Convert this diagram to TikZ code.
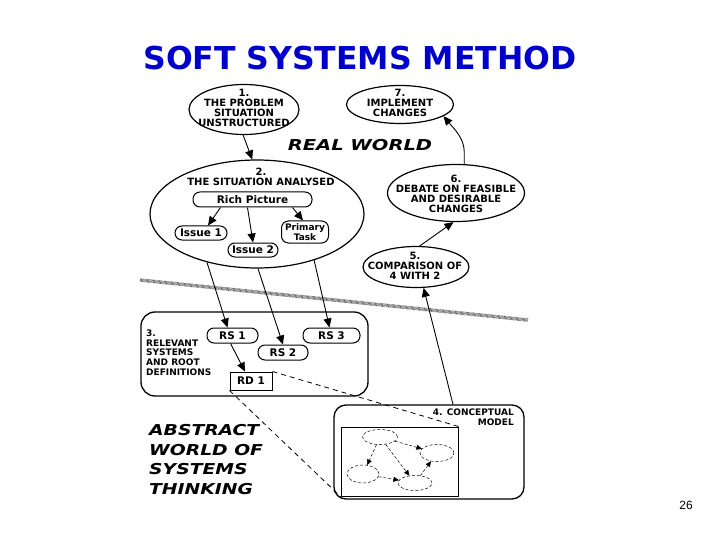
\documentclass[tikz,border=0pt]{standalone}
\usepackage{fontspec}
\usepackage{graphicx}
\setmainfont{DejaVu Sans}
\newfontfamily\arialfont{Liberation Sans}
\usetikzlibrary{shapes.geometric,arrows.meta,calc}
\definecolor{titleblue}{RGB}{0,0,204}
\begin{document}
\begin{tikzpicture}[x=1pt,y=-1pt,
  txt/.style={font=\fontsize{10}{10}\selectfont\bfseries, align=center, inner sep=0pt},
  smalltxt/.style={font=\fontsize{9}{9.8}\selectfont\bfseries, inner sep=0pt},
  bigital/.style={font=\fontsize{15}{19.5}\selectfont\bfseries\itshape, inner sep=0pt},
  stage/.style={draw, ellipse, line width=1.2pt, inner sep=0pt},
  pill/.style={draw, rounded corners=7pt, line width=1pt, inner sep=0pt, font=\fontsize{10.5}{10.5}\selectfont\bfseries, align=center},
  frame/.style={draw, line width=1.3pt, inner sep=0pt},
  arr/.style={-{Triangle[length=9pt,width=8pt]}, line width=0.9pt},
  mini/.style={draw, ellipse, densely dashed, line width=0.5pt, inner sep=0pt},
  miniarr/.style={-{Triangle[length=5.5pt,width=5pt]}, line width=0.5pt, densely dashed},
  link/.style={line width=0.8pt, dash pattern=on 5pt off 4pt}
]
\useasboundingbox (0,0) rectangle (720,540);

% title
\node[font=\fontsize{31.5}{32}\selectfont\bfseries, text=titleblue, inner sep=0pt] (title) at (360,58) {SOFT SYSTEMS METHOD};

% real world stages
\node[stage, minimum width=110, minimum height=50] (e1) at (244,109.5) {};
\node[txt] (t1) at (244,108) {1.\\THE PROBLEM\\SITUATION\\UNSTRUCTURED};

\node[stage, minimum width=107, minimum height=38] (e7) at (400,104.5) {};
\node[txt] (t7) at (400,103) {7.\\IMPLEMENT\\CHANGES};

\node[bigital] (rw) at (360,145) {\scalebox{1.3}[1]{REAL WORLD}};

\node[stage, minimum width=214, minimum height=108] (e2) at (257,214) {};
\node[txt] (t2) at (261,176.5) {2.\\THE SITUATION ANALYSED};

\node[pill, minimum width=119, minimum height=15] (rp) at (252.5,199.5) {Rich Picture};
\node[pill, minimum width=52, minimum height=14] (is1) at (201,233) {Issue 1};
\node[pill, minimum width=50, minimum height=14] (is2) at (253,250) {Issue 2};
\node[pill, minimum width=47, minimum height=22, font=\fontsize{9}{9.5}\selectfont\bfseries] (pt) at (305,232) {Primary\\Task};

\node[stage, minimum width=137, minimum height=57] (e6) at (456,193) {};
\node[txt] (t6) at (456,193.5) {6.\\DEBATE ON FEASIBLE\\AND DESIRABLE\\CHANGES};

\node[stage, minimum width=106, minimum height=41] (e5) at (416,267) {};
\node[txt] (t5) at (415,266) {5.\\COMPARISON OF\\4 WITH 2};

% boundary between the worlds
\coordinate (h1) at (140,280);
\coordinate (h2) at (528,320);
\draw[line width=3.5pt, black!65, dash pattern=on 0.6pt off 0.6pt] (h1) -- (h2);

% relevant systems box
\node[frame, rounded corners=14pt, minimum width=227, minimum height=84] (rsbox) at (254.5,354) {};
\node[smalltxt, align=left, anchor=north west] (t3) at (146,329.5) {3.\\RELEVANT\\SYSTEMS\\AND ROOT\\DEFINITIONS};
\node[pill, minimum width=51, minimum height=15] (rs1) at (232.5,335.5) {RS 1};
\node[pill, minimum width=50, minimum height=15] (rs2) at (283,352.5) {RS 2};
\node[pill, minimum width=57, minimum height=15] (rs3) at (331.5,335.5) {RS 3};
\node[draw, line width=1pt, inner sep=0pt, minimum width=42, minimum height=18, font=\fontsize{10.5}{10.5}\selectfont\bfseries] (rd1) at (251,381) {RD 1};

% conceptual model
\node[frame, rounded corners=12pt, minimum width=190, minimum height=94] (cbox) at (429,452) {};
\node[draw, line width=1pt, inner sep=0pt, minimum width=117, minimum height=69] (inner) at (399.5,461.5) {};
\node[smalltxt, align=right, anchor=north east] (t4) at (514,408.5) {4. CONCEPTUAL\\MODEL};
\node[mini, minimum width=35, minimum height=15] (ma) at (380,437) {};
\node[mini, minimum width=34, minimum height=17] (mb) at (437,453) {};
\node[mini, minimum width=32, minimum height=18] (mc) at (363,474) {};
\node[mini, minimum width=34, minimum height=15] (md) at (415,483) {};
\draw[miniarr] (ma) -- (mb);
\draw[miniarr] (ma) -- (mc);
\draw[miniarr] (ma) -- (md);
\draw[miniarr] (mc) -- (md);
\draw[miniarr] (md) -- (mb);

\node[bigital, align=left, anchor=north west] (abs) at (149,422) {\scalebox{1.25}[1]{\begin{tabular}{@{}l@{}}ABSTRACT\\WORLD OF\\SYSTEMS\\THINKING\end{tabular}}};

\node[font=\arialfont\fontsize{12}{12}\selectfont, inner sep=0pt] (pg) at (686,505) {26};

% connectors
\draw[arr] (e1.-92) -- (e2.95);
\draw[arr] ($(rp.south)+(-32,0)$) -- ($(is1.north)+(7,0)$);
\draw[arr] ($(rp.south)+(-5,0)$) -- (is2.north);
\draw[arr] ($(rp.south)+(40,0)$) -- ($(pt.north)+(-2,0)$);
\draw[arr] (e2.224) -- ($(rs1.north)+(-5,0)$);
\draw[arr] (e2.271) -- (rs2.north);
\draw[arr] (e2.321.6) -- ($(rs3.north)+(-2,0)$);
\draw[arr] ($(rs1.south)+(-2,0)$) -- ($(rd1.north)+(-6,0)$);
\draw[link] (rd1.north east) -- (inner.north east);
\draw[link] (rd1.south west) -- (inner.south west);
\draw[arr] ($(cbox.north)+(24,0)$) -- (e5.-70);
\draw[arr] (e5.80) -- (e6.-95);
\draw[arr] (e6.74) -- ++(0,-12) .. controls +(0,-14) and +(10,12) .. (e7.-15);
\end{tikzpicture}
\end{document}
